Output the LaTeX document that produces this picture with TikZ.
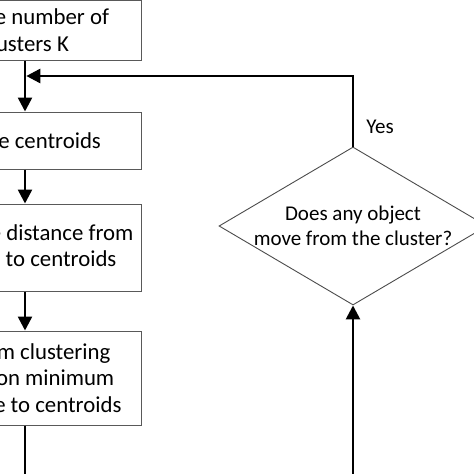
\documentclass[tikz,border=0pt]{standalone}
\usepackage{fontspec}
\setmainfont{Carlito}
\usetikzlibrary{shapes.geometric}
\usetikzlibrary{arrows.meta}
\tikzstyle{process}=[draw=black!65, line width=1pt, fill=white, minimum width=232pt, align=center, inner sep=0pt, font=\fontsize{22.8}{26.5}\selectfont]
\tikzstyle{decision}=[draw=black!70, line width=0.9pt, diamond, minimum width=268pt, minimum height=158pt, inner sep=0pt]
\tikzstyle{caption}=[align=center, font=\fontsize{21}{25.5}\selectfont]
\tikzstyle{flow}=[line width=2.6pt, -{Triangle[length=14pt,width=14pt]}]

\begin{document}
\begin{tikzpicture}[x=1pt, y=-1pt]
\useasboundingbox (0,0) rectangle (474,474);
\fill [white] (0,0) rectangle (474,474);
\clip (0,0) rectangle (474,474);

\node (clusternumber) [process, minimum height=60pt] at (25,30) {Set the number of\\clusters K};
\node (centroids) [process, minimum height=57pt] at (25,140.5) {Define centroids};
\node (distance) [process, minimum height=87pt] at (25,247.5) {Calculate distance from\\objects to centroids};
\node (grouping) [process, minimum height=94pt] at (25,378) {Perform clustering\\based on minimum\\distance to centroids};

\node (moved) [decision] at (353,226) {};
\node (movedtext) at (moved) [caption] {Does any object\\move from the cluster?};
\node (yes) [caption] at (380,127) {Yes};

\coordinate (joint) at (25,76);
\coordinate (leftend) at (25,480);
\coordinate (rightend) at (353,480);

\draw [flow] (clusternumber.south) -- (centroids.north);
\draw [flow] (centroids.south) -- (distance.north);
\draw [flow] (distance.south) -- (grouping.north);
\draw [line width=2.6pt] (grouping.south) -- (leftend);
\draw [flow] (rightend) -- (moved.south);
\draw [flow, shorten >=1.3pt] (moved.north) |- (joint);
\end{tikzpicture}
\end{document}
